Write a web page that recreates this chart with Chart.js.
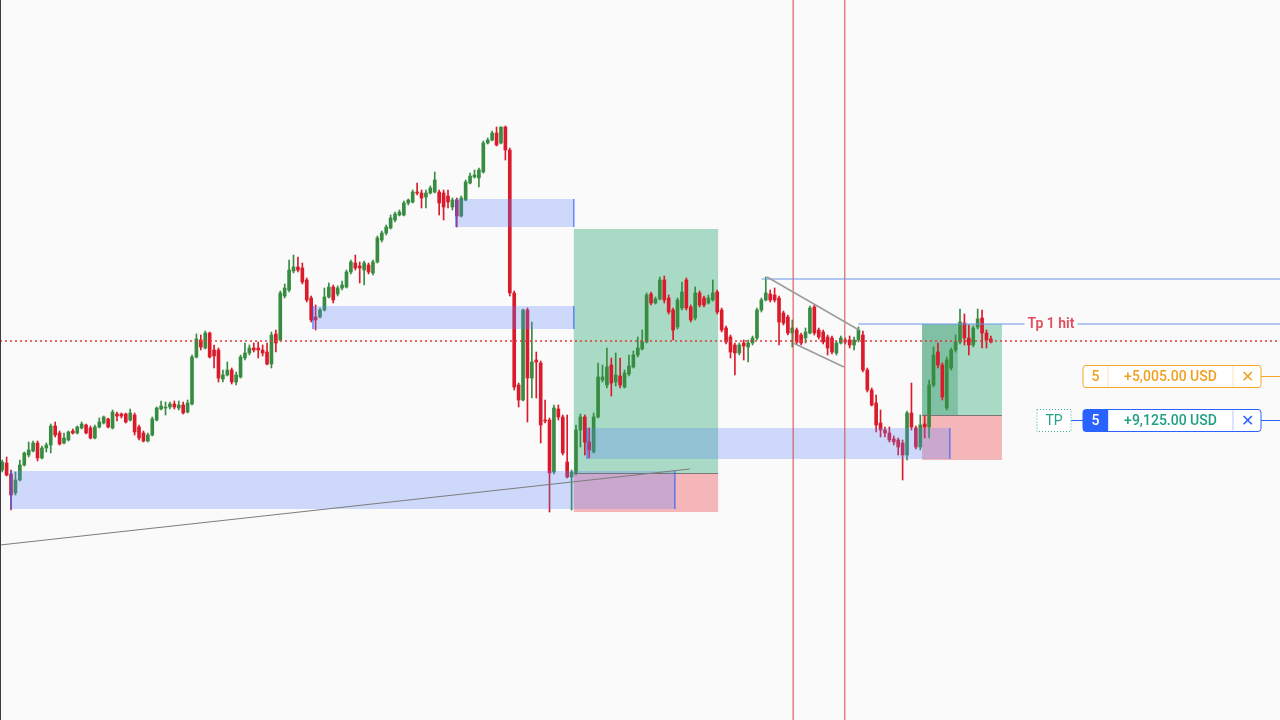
<!DOCTYPE html>
<html>
<head>
<meta charset="utf-8">
<script src="https://cdn.jsdelivr.net/npm/chart.js@4.4.1/dist/chart.umd.min.js"></script>
<style>
  html, body { margin: 0; padding: 0; background: #fafafa; }
  #wrap { position: relative; width: 1280px; height: 720px; }
</style>
</head>
<body>
<div id="wrap"><canvas id="chart"></canvas></div>
<script>
// candle data (price points), one entry per bar
const opens = [250,257,246,227,240,255,265,269,277,262,
272,275,294,287,277,280,289,287,292,295,
292,282,293,297,301,292,306,306,306,300,
305,293,287,279,285,300,311,312,313,316,
312,315,308,316,363,380,372,387,370,370,
341,345,350,338,343,362,367,372,372,370,
368,356,386,380,424,430,449,453,452,440,
422,403,403,410,423,433,426,432,433,448,
457,454,450,455,447,458,480,487,492,500,
505,505,517,518,528,527,523,527,528,528,
527,524,513,520,504,520,537,543,542,548,
577,580,587,577,593,570,427,335,320,410,
342,360,357,300,300,248,311,303,258,243,
247,290,303,278,268,303,340,335,355,338,
344,333,346,353,365,371,378,426,417,421,
440,422,410,393,412,440,413,402,427,422,
417,420,428,410,392,383,375,367,377,373,
377,382,410,420,426,425,422,407,403,387,
390,385,382,387,413,390,388,383,382,367,
377,380,380,375,380,385,350,330,317,297,
290,287,281,280,277,265,307,292,273,296,
293,335,368,355,312,352,370,378,397,382,
375,393,402,387,381];

const highs = [260,263,250,248,260,268,278,279,279,274,
277,296,298,289,287,289,291,294,298,296,
294,295,302,304,302,310,308,307,307,311,
307,295,289,287,303,313,319,318,318,319,
319,318,320,365,386,385,389,388,375,372,
350,358,352,348,365,377,375,377,378,375,
377,388,390,429,436,460,465,463,457,442,
424,415,412,432,437,435,434,439,450,460,
465,458,459,457,460,484,489,495,505,508,
510,519,521,530,537,530,530,534,548,530,
530,530,522,522,524,540,547,550,552,579,
582,589,593,593,594,572,429,337,411,412,
398,368,359,320,302,315,315,305,305,250,
295,306,305,292,307,357,355,372,362,367,
362,350,365,369,383,390,427,428,423,443,
444,425,412,422,438,442,415,433,429,424,
425,440,430,412,394,385,377,377,380,380,
384,412,422,443,430,432,424,409,405,400,
392,387,392,414,415,392,390,385,384,379,
384,382,384,383,393,389,352,332,325,310,
293,293,284,282,280,309,337,294,305,305,
340,373,377,357,363,372,385,411,406,395,
394,411,410,390,384];

const lows = [248,244,210,225,239,254,263,268,259,261,
268,267,283,275,276,279,286,286,291,286,
281,281,292,296,292,291,299,302,297,299,
285,280,278,278,284,299,310,305,311,311,
310,306,307,315,362,370,371,362,352,338,
338,344,336,335,342,360,365,368,362,364,
355,352,368,379,422,428,447,448,436,418,
398,390,402,409,422,417,424,430,432,446,
450,437,435,446,445,457,478,485,491,498,
504,504,515,517,525,512,512,526,527,505,
500,512,510,493,503,519,536,542,533,547,
576,579,574,576,560,424,330,313,319,298,
322,322,277,297,208,246,300,265,242,210,
245,273,265,262,267,302,338,332,324,334,
332,332,344,352,363,370,377,415,416,420,
417,406,380,391,410,410,398,400,413,413,
416,419,406,388,376,362,345,365,360,358,
375,380,408,419,418,418,375,395,385,373,
376,375,377,386,385,381,376,365,366,365,
376,376,372,370,378,348,328,314,288,283,
283,278,275,265,240,260,290,271,270,282,
282,333,352,320,310,350,368,376,375,365,
373,391,372,372,377];

const closes = [258,245,225,240,255,267,270,277,262,272,
275,294,285,276,282,288,287,293,296,287,
282,293,298,303,293,308,304,304,298,307,
288,282,279,285,301,312,314,313,316,313,
315,307,317,363,381,373,387,363,364,342,
345,350,338,345,363,367,372,370,370,367,
356,385,377,427,432,450,453,450,438,420,
400,400,410,423,433,420,432,435,448,458,
452,452,457,448,458,482,487,493,502,506,
508,517,520,528,527,522,527,532,540,517,
513,518,520,504,522,538,544,545,550,577,
580,587,575,593,570,427,333,320,410,342,
358,358,295,299,247,312,303,267,243,248,
290,303,278,270,303,343,343,353,337,345,
335,347,354,365,372,378,425,417,421,440,
420,408,390,420,428,412,400,427,415,415,
422,427,408,390,378,368,367,375,374,377,
382,410,420,427,420,420,398,397,387,392,
378,377,388,412,387,383,378,372,368,377,
382,378,375,380,390,350,330,315,295,290,
287,280,278,273,265,307,293,273,295,293,
335,365,355,323,360,370,378,398,382,375,
392,401,387,380,378];

// bar slots on the time axis (visible window incl. empty space on the right)
const barLabels = Array.from({ length: 290 }, (_, i) => String(i));

// drawings, in bar index / price units
const blueZones = [      // [fromBar, toBar, top, bottom]
  [2, 152.4, 249, 211],
  [102.8, 129.5, 521, 493],
  [70.4, 129.5, 414, 391],
  [132.5, 214.7, 292, 261]
];
const positionFrom = [129.5, 208.4];
const positionTo = [162.2, 226.5];
const positionTarget = [491, 396];
const positionEntry = [247, 305];
const positionStop = [208, 260];
const positionReached = [null, 216.5];
const verticalMarks = [179.2, 190.9];
const levelFrom = [172.1, 193.9];
const levelPrice = [441, 396];
const dottedLevel = 379;
const trendLine = [[-0.5, 175], [155.8, 251]];
const channelLines = [[[173.3, 443], [194.1, 390]], [[179.2, 377], [190.7, 353]]];
const tpHitLabel = { bar: 237.6, price: 396, text: 'Tp 1 hit' };
const orderLevels = [344, 300];
const orderQty = ['5', '5'];
const orderPnl = ['+5,005.00 USD', '+9,125.00 USD'];

const GREEN = '#378c41';
const RED = '#db1a2b';
const candleColors = opens.map((o, i) => closes[i] >= o ? GREEN : RED);

function rrect(ctx, x, y, w, h, r) {
  ctx.beginPath();
  ctx.moveTo(x + r, y);
  ctx.lineTo(x + w - r, y);
  ctx.quadraticCurveTo(x + w, y, x + w, y + r);
  ctx.lineTo(x + w, y + h - r);
  ctx.quadraticCurveTo(x + w, y + h, x + w - r, y + h);
  ctx.lineTo(x + r, y + h);
  ctx.quadraticCurveTo(x, y + h, x, y + h - r);
  ctx.lineTo(x, y + r);
  ctx.quadraticCurveTo(x, y, x + r, y);
  ctx.closePath();
}

const overlay = {
  id: 'overlay',
  beforeDatasetsDraw(chart) {
    const ctx = chart.ctx;
    const X = v => chart.scales.x.getPixelForValue(v);
    const Y = v => chart.scales.y.getPixelForValue(v);
    ctx.save();
    positionFrom.forEach((f, k) => {
      const x1 = X(f), x2 = X(positionTo[k]);
      const yt = Y(positionTarget[k]), ye = Y(positionEntry[k]), ys = Y(positionStop[k]);
      ctx.fillStyle = 'rgba(38,166,110,0.38)';
      ctx.fillRect(x1, yt, x2 - x1, ye - yt);
      if (positionReached[k] != null) {
        ctx.fillStyle = 'rgba(20,125,80,0.28)';
        ctx.fillRect(x1, yt, X(positionReached[k]) - x1, ye - yt);
      }
      ctx.fillStyle = 'rgba(235,60,70,0.36)';
      ctx.fillRect(x1, ye, x2 - x1, ys - ye);
    });
    ctx.restore();
  },
  afterDatasetsDraw(chart) {
    const ctx = chart.ctx;
    const a = chart.chartArea;
    const X = v => chart.scales.x.getPixelForValue(v);
    const Y = v => chart.scales.y.getPixelForValue(v);
    ctx.save();

    // order block zones
    blueZones.forEach(z => {
      const x1 = X(z[0]), x2 = X(z[1]), y1 = Y(z[2]), y2 = Y(z[3]);
      ctx.fillStyle = 'rgba(90,130,250,0.28)';
      ctx.fillRect(x1, y1, x2 - x1, y2 - y1);
      ctx.strokeStyle = 'rgba(41,98,255,0.7)';
      ctx.lineWidth = 1.5;
      ctx.beginPath();
      ctx.moveTo(x1, y1); ctx.lineTo(x1, y2);
      ctx.moveTo(x2, y1); ctx.lineTo(x2, y2);
      ctx.stroke();
    });

    // entry lines of the positions
    ctx.strokeStyle = 'rgba(110,110,110,0.9)';
    ctx.lineWidth = 1;
    positionFrom.forEach((f, k) => {
      const ye = Math.round(Y(positionEntry[k])) + 0.5;
      ctx.beginPath(); ctx.moveTo(X(f), ye); ctx.lineTo(X(positionTo[k]), ye); ctx.stroke();
    });

    // vertical session marks
    ctx.strokeStyle = 'rgba(214,70,70,0.85)';
    ctx.lineWidth = 1.2;
    verticalMarks.forEach(v => {
      ctx.beginPath(); ctx.moveTo(X(v), a.top); ctx.lineTo(X(v), a.bottom); ctx.stroke();
    });

    // blue horizontal levels
    ctx.strokeStyle = '#6b95ea';
    ctx.lineWidth = 1.2;
    levelFrom.forEach((f, k) => {
      const y = Y(levelPrice[k]);
      ctx.beginPath(); ctx.moveTo(X(f), y); ctx.lineTo(a.right, y); ctx.stroke();
    });

    // dotted red level
    ctx.strokeStyle = '#de3a3a';
    ctx.lineWidth = 1.5;
    ctx.setLineDash([2, 3]);
    ctx.beginPath(); ctx.moveTo(a.left, Y(dottedLevel)); ctx.lineTo(a.right, Y(dottedLevel)); ctx.stroke();
    ctx.setLineDash([]);

    // trend line and channel
    ctx.strokeStyle = '#7d7d7d';
    ctx.lineWidth = 1.2;
    ctx.beginPath();
    ctx.moveTo(X(trendLine[0][0]), Y(trendLine[0][1]));
    ctx.lineTo(X(trendLine[1][0]), Y(trendLine[1][1]));
    ctx.stroke();
    ctx.strokeStyle = '#9b9b9b';
    ctx.lineWidth = 1.5;
    channelLines.forEach(l => {
      ctx.beginPath();
      ctx.moveTo(X(l[0][0]), Y(l[0][1]));
      ctx.lineTo(X(l[1][0]), Y(l[1][1]));
      ctx.stroke();
    });

    // "Tp 1 hit" text on the level
    ctx.font = '600 14px Roboto';
    ctx.textAlign = 'center';
    ctx.textBaseline = 'middle';
    const tx = X(tpHitLabel.bar), ty = Y(tpHitLabel.price);
    const tw = ctx.measureText(tpHitLabel.text).width;
    ctx.fillStyle = '#fafafa';
    ctx.fillRect(tx - tw / 2 - 3, ty - 7, tw + 6, 14);
    ctx.fillStyle = '#e34c5e';
    ctx.fillText(tpHitLabel.text, tx, ty);

    // order widgets on the right
    const bx1 = a.right - 197, bx2 = a.right - 19, bh = 22;
    const themes = [
      { border: '#f5a623', qtyBg: '#ffffff', qty: '#f0a020', pnl: '#f0a020', x: '#f0a020' },
      { border: '#2962ff', qtyBg: '#2962ff', qty: '#ffffff', pnl: '#1f9e84', x: '#2962ff' }
    ];
    orderLevels.forEach((lv, k) => {
      const t = themes[k];
      const yc = Math.round(Y(lv)) + 0.5;
      const top = yc - bh / 2;
      ctx.strokeStyle = t.border;
      ctx.lineWidth = 1;
      ctx.beginPath(); ctx.moveTo(bx2, yc); ctx.lineTo(a.right, yc); ctx.stroke();
      rrect(ctx, bx1, top, bx2 - bx1, bh, 3);
      ctx.fillStyle = '#ffffff';
      ctx.fill();
      ctx.save();
      rrect(ctx, bx1, top, bx2 - bx1, bh, 3);
      ctx.clip();
      ctx.fillStyle = t.qtyBg;
      ctx.fillRect(bx1, top, 25, bh);
      ctx.restore();
      rrect(ctx, bx1, top, bx2 - bx1, bh, 3);
      ctx.stroke();
      ctx.strokeStyle = k === 0 ? 'rgba(245,166,35,0.35)' : 'rgba(41,98,255,0.35)';
      ctx.beginPath();
      ctx.moveTo(bx1 + 25, top + 1); ctx.lineTo(bx1 + 25, top + bh - 1);
      ctx.moveTo(bx2 - 28, top + 1); ctx.lineTo(bx2 - 28, top + bh - 1);
      ctx.stroke();
      ctx.font = '500 14px Roboto';
      ctx.fillStyle = t.qty;
      ctx.fillText(orderQty[k], bx1 + 12.5, yc + 1);
      ctx.fillStyle = t.pnl;
      ctx.fillText(orderPnl[k], (bx1 + 25 + bx2 - 28) / 2, yc + 1);
      ctx.fillStyle = t.x;
      ctx.font = '16px Roboto';
      ctx.fillText('\u2715', bx2 - 14, yc + 1);
    });

    // TP tag for the blue order
    const yb = Math.round(Y(orderLevels[1])) + 0.5;
    ctx.strokeStyle = '#2962ff';
    ctx.beginPath(); ctx.moveTo(a.right - 209, yb); ctx.lineTo(bx1, yb); ctx.stroke();
    ctx.fillStyle = '#ffffff';
    ctx.fillRect(a.right - 243, yb - 11, 34, 22);
    ctx.strokeStyle = '#3bb39a';
    ctx.setLineDash([1, 2]);
    ctx.strokeRect(a.right - 243, yb - 11, 34, 22);
    ctx.setLineDash([]);
    ctx.font = '14px Roboto';
    ctx.fillStyle = '#23a58a';
    ctx.fillText('TP', a.right - 226, yb + 1);

    // frame edge
    ctx.strokeStyle = '#3c3c3c';
    ctx.lineWidth = 1;
    ctx.beginPath(); ctx.moveTo(a.left + 0.5, a.top); ctx.lineTo(a.left + 0.5, a.bottom); ctx.stroke();
    ctx.restore();
  }
};

new Chart(document.getElementById('chart'), {
  type: 'bar',
  data: {
    labels: barLabels,
    datasets: [
      {
        label: 'wick',
        data: lows.map((l, i) => [l, highs[i]]),
        backgroundColor: candleColors,
        barThickness: 1,
        grouped: false,
        order: 2
      },
      {
        label: 'body',
        data: opens.map((o, i) => [o, closes[i]]),
        backgroundColor: candleColors,
        barThickness: 3,
        minBarLength: 1,
        grouped: false,
        order: 1
      }
    ]
  },
  options: {
    responsive: true,
    maintainAspectRatio: false,
    animation: false,
    layout: { padding: 0 },
    plugins: { legend: { display: false }, tooltip: { enabled: false } },
    scales: {
      x: { type: 'category', display: false, offset: true, grid: { display: false } },
      y: { type: 'linear', display: false, min: 0, max: 720, grid: { display: false } }
    }
  },
  plugins: [overlay]
});
</script>
</body>
</html>
